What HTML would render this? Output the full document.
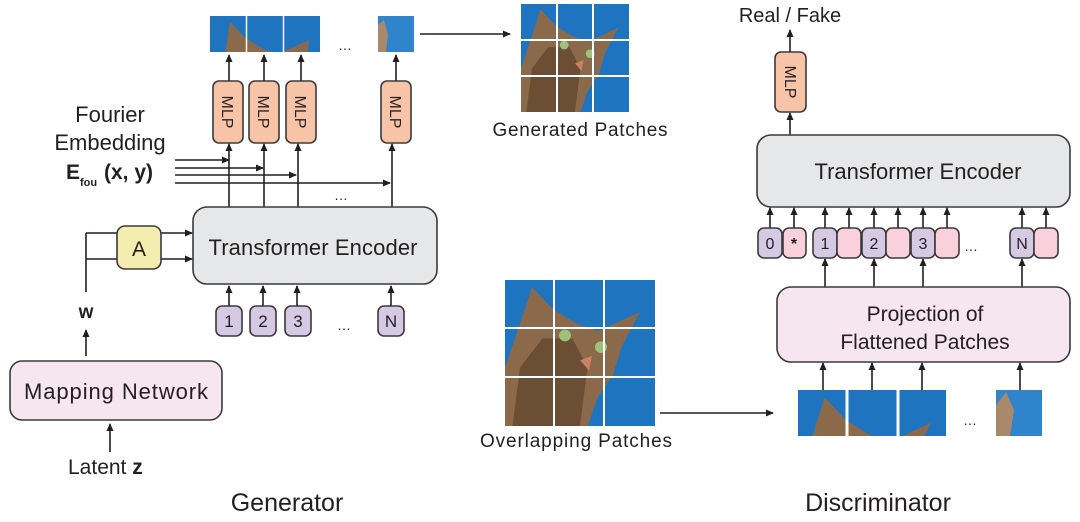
<!DOCTYPE html>
<html><head><meta charset="utf-8"><style>
html,body{margin:0;padding:0;background:#fff;}
svg{display:block;}
text{font-family:"Liberation Sans",sans-serif;fill:#231f20;}
</style></head><body>
<svg width="1080" height="522" viewBox="0 0 1080 522" xmlns="http://www.w3.org/2000/svg">
<defs>
<marker id="ah" markerWidth="8" markerHeight="8" refX="7" refY="4" orient="auto" markerUnits="userSpaceOnUse">
<path d="M0,0.5 L8,4 L0,7.5 Z" fill="#231f20"/></marker>
<symbol id="cat" viewBox="0 0 100 100" preserveAspectRatio="none">
<rect width="100" height="100" fill="#1f74c0"/>
<path d="M0,100 L0,60 L10,30 L18,5 L32,20 L48,30 L62,35 L90,22 L78,45 L72,65 L62,80 L55,100 Z" fill="#8a6a4a"/>
<path d="M5,100 L10,60 L25,40 L45,40 L55,60 L50,100 Z" fill="#6b4e33"/>
<circle cx="40" cy="38" r="4" fill="#9fc27a"/><circle cx="64" cy="46" r="4" fill="#9fc27a"/>
<path d="M50,55 L58,52 L56,62 Z" fill="#c98262"/>
</symbol>
<symbol id="catTop" viewBox="0 0 100 100" preserveAspectRatio="none">
<rect width="100" height="100" fill="#1f74c0"/>
<path d="M0,100 L10,60 L18,5 L32,20 L48,30 L62,35 L90,22 L85,60 L75,100 Z" fill="#8a6a4a"/>
</symbol>
</defs>
<svg x="210" y="16" width="110" height="36" viewBox="0 0 100 33" preserveAspectRatio="none"><use href="#catTop" x="0" y="0" width="100" height="100"/></svg>
<line x1="246.5" y1="16" x2="246.5" y2="52" stroke="#fff" stroke-width="1.5"/>
<line x1="283.5" y1="16" x2="283.5" y2="52" stroke="#fff" stroke-width="1.5"/>
<rect x="378" y="16" width="36" height="36" fill="#2f84cc"/>
<path d="M378,52 L378,25 L384,20 L388,35 L386,52 Z" fill="#a88a6a"/>
<text x="345" y="50" font-size="14" text-anchor="middle">…</text>

<g stroke="#231f20" stroke-width="1.6" fill="none">
<line x1="420" y1="34" x2="510" y2="34" marker-end="url(#ah)"/>
<line x1="229" y1="81" x2="229" y2="55" marker-end="url(#ah)"/>
<line x1="264" y1="81" x2="264" y2="55" marker-end="url(#ah)"/>
<line x1="301" y1="81" x2="301" y2="55" marker-end="url(#ah)"/>
<line x1="396" y1="81" x2="396" y2="55" marker-end="url(#ah)"/>
<line x1="229" y1="207" x2="229" y2="144" marker-end="url(#ah)"/>
<line x1="264" y1="207" x2="264" y2="144" marker-end="url(#ah)"/>
<line x1="298" y1="207" x2="298" y2="144" marker-end="url(#ah)"/>
<line x1="392" y1="207" x2="392" y2="144" marker-end="url(#ah)"/>
<line x1="175" y1="160" x2="229" y2="160" marker-end="url(#ah)"/>
<line x1="175" y1="168" x2="263" y2="168" marker-end="url(#ah)"/>
<line x1="175" y1="175" x2="296" y2="175" marker-end="url(#ah)"/>
<line x1="175" y1="183" x2="390" y2="183" marker-end="url(#ah)"/>
<line x1="86" y1="292" x2="86" y2="233"/>
<line x1="86" y1="233" x2="117" y2="233"/>
<line x1="161" y1="233" x2="192" y2="233" marker-end="url(#ah)"/>
<line x1="86" y1="259" x2="192" y2="259" marker-end="url(#ah)"/>
<line x1="86" y1="356" x2="86" y2="330" marker-end="url(#ah)"/>
<line x1="110" y1="452" x2="110" y2="424" marker-end="url(#ah)"/>
<line x1="229" y1="306" x2="229" y2="286" marker-end="url(#ah)"/>
<line x1="263" y1="306" x2="263" y2="286" marker-end="url(#ah)"/>
<line x1="297" y1="306" x2="297" y2="286" marker-end="url(#ah)"/>
<line x1="391" y1="306" x2="391" y2="286" marker-end="url(#ah)"/>
</g>
<g stroke="#3a3a3a" stroke-width="1.6" fill="#f8c4a8">
<rect x="213" y="81" width="30" height="62" rx="6"/>
<rect x="249" y="81" width="30" height="62" rx="6"/>
<rect x="286" y="81" width="30" height="62" rx="6"/>
<rect x="381" y="81" width="30" height="62" rx="6"/>
<rect x="775" y="52" width="31" height="60" rx="6"/>
</g>
<g font-size="16">
<text transform="translate(222,112) rotate(90)" text-anchor="middle">MLP</text>
<text transform="translate(258,112) rotate(90)" text-anchor="middle">MLP</text>
<text transform="translate(295,112) rotate(90)" text-anchor="middle">MLP</text>
<text transform="translate(390,112) rotate(90)" text-anchor="middle">MLP</text>
<text transform="translate(785,82) rotate(90)" text-anchor="middle">MLP</text>
</g>
<text x="110" y="122" font-size="22" text-anchor="middle">Fourier</text>
<text x="110" y="150" font-size="22" text-anchor="middle">Embedding</text>
<text x="66" y="179" font-size="21" font-weight="bold">E</text>
<text x="80" y="186" font-size="11" font-weight="bold">fou</text>
<text x="104" y="179" font-size="21" font-weight="bold">(x, y)</text>
<text x="341" y="200" font-size="14" text-anchor="middle">…</text>

<rect x="193" y="207" width="244" height="77" rx="14" fill="#e6e7e8" stroke="#3a3a3a" stroke-width="1.6"/>
<text x="313" y="255" font-size="22" text-anchor="middle" textLength="209">Transformer Encoder</text>
<rect x="117" y="226" width="44" height="43" rx="8" fill="#f3edb0" stroke="#3a3a3a" stroke-width="1.6"/>
<text x="139" y="256" font-size="21" text-anchor="middle">A</text>
<g stroke="#3a3a3a" stroke-width="1.6" fill="#d5c9e3">
<rect x="216" y="306" width="26" height="30" rx="6"/>
<rect x="250" y="306" width="26" height="30" rx="6"/>
<rect x="285" y="306" width="26" height="30" rx="6"/>
<rect x="378" y="306" width="26" height="30" rx="6"/>
</g>
<g font-size="17" text-anchor="middle">
<text x="229" y="327">1</text><text x="263" y="327">2</text><text x="298" y="327">3</text><text x="391" y="327">N</text>
</g>
<text x="344" y="330" font-size="14" text-anchor="middle">…</text>
<text x="86" y="318" font-size="19" font-weight="bold" text-anchor="middle">w</text>
<rect x="10" y="361" width="212" height="59" rx="12" fill="#f6e6f0" stroke="#3a3a3a" stroke-width="1.6"/>
<text x="116" y="399" font-size="22" text-anchor="middle" textLength="184">Mapping  Network</text>
<text x="68" y="474" font-size="21">Latent <tspan font-weight="bold">z</tspan></text>
<text x="287" y="511" font-size="25" text-anchor="middle">Generator</text>

<use href="#cat" x="521" y="4" width="108" height="108"/>
<g stroke="#fff" stroke-width="2">
<line x1="557" y1="4" x2="557" y2="112"/><line x1="593" y1="4" x2="593" y2="112"/>
<line x1="521" y1="40" x2="629" y2="40"/><line x1="521" y1="76" x2="629" y2="76"/>
</g>
<text x="580" y="136" font-size="19" text-anchor="middle" textLength="175">Generated Patches</text>

<use href="#cat" x="505" y="280" width="150" height="146"/>
<g stroke="#fff" stroke-width="2">
<line x1="554" y1="280" x2="554" y2="426"/><line x1="604" y1="280" x2="604" y2="426"/>
<line x1="505" y1="328" x2="655" y2="328"/><line x1="505" y1="377" x2="655" y2="377"/>
</g>
<text x="576" y="447" font-size="19" text-anchor="middle" textLength="192">Overlapping Patches</text>
<line x1="660" y1="413" x2="773" y2="413" stroke="#231f20" stroke-width="1.6" marker-end="url(#ah)"/>

<text x="790" y="22" font-size="20" text-anchor="middle">Real / Fake</text>
<g stroke="#231f20" stroke-width="1.6" fill="none">
<line x1="790" y1="52" x2="790" y2="30" marker-end="url(#ah)"/>
<line x1="790" y1="135" x2="790" y2="113" marker-end="url(#ah)"/>
<line x1="770" y1="228" x2="770" y2="208" marker-end="url(#ah)"/>
<line x1="794" y1="228" x2="794" y2="208" marker-end="url(#ah)"/>
<line x1="825" y1="228" x2="825" y2="208" marker-end="url(#ah)"/>
<line x1="849" y1="228" x2="849" y2="208" marker-end="url(#ah)"/>
<line x1="874" y1="228" x2="874" y2="208" marker-end="url(#ah)"/>
<line x1="898" y1="228" x2="898" y2="208" marker-end="url(#ah)"/>
<line x1="923" y1="228" x2="923" y2="208" marker-end="url(#ah)"/>
<line x1="947" y1="228" x2="947" y2="208" marker-end="url(#ah)"/>
<line x1="1022" y1="228" x2="1022" y2="208" marker-end="url(#ah)"/>
<line x1="1046" y1="228" x2="1046" y2="208" marker-end="url(#ah)"/>
<line x1="825" y1="287" x2="825" y2="259" marker-end="url(#ah)"/>
<line x1="874" y1="287" x2="874" y2="259" marker-end="url(#ah)"/>
<line x1="923" y1="287" x2="923" y2="259" marker-end="url(#ah)"/>
<line x1="1022" y1="287" x2="1022" y2="259" marker-end="url(#ah)"/>
<line x1="823" y1="400" x2="823" y2="363" marker-end="url(#ah)"/>
<line x1="872" y1="400" x2="872" y2="363" marker-end="url(#ah)"/>
<line x1="922" y1="400" x2="922" y2="363" marker-end="url(#ah)"/>
<line x1="1020" y1="400" x2="1020" y2="363" marker-end="url(#ah)"/>
</g>
<rect x="757" y="135" width="313" height="72" rx="14" fill="#e6e7e8" stroke="#3a3a3a" stroke-width="1.6"/>
<text x="918" y="179" font-size="22" text-anchor="middle" textLength="207">Transformer Encoder</text>
<g stroke="#3a3a3a" stroke-width="1.6">
<rect x="758" y="228" width="24" height="30" rx="6" fill="#d5c9e3"/>
<rect x="783" y="228" width="23" height="30" rx="6" fill="#f9d0dc"/>
<rect x="813" y="228" width="24" height="30" rx="6" fill="#d5c9e3"/>
<rect x="837" y="228" width="24" height="30" rx="6" fill="#f9d0dc"/>
<rect x="862" y="228" width="24" height="30" rx="6" fill="#d5c9e3"/>
<rect x="886" y="228" width="24" height="30" rx="6" fill="#f9d0dc"/>
<rect x="911" y="228" width="24" height="30" rx="6" fill="#d5c9e3"/>
<rect x="935" y="228" width="24" height="30" rx="6" fill="#f9d0dc"/>
<rect x="1010" y="228" width="24" height="30" rx="6" fill="#d5c9e3"/>
<rect x="1034" y="228" width="24" height="30" rx="6" fill="#f9d0dc"/>
</g>
<g font-size="16" text-anchor="middle">
<text x="770" y="249">0</text><text x="794" y="249" font-weight="bold">*</text>
<text x="825" y="249">1</text><text x="874" y="249">2</text><text x="923" y="249">3</text><text x="1022" y="249">N</text>
</g>
<text x="971" y="251" font-size="14" text-anchor="middle">…</text>
<rect x="777" y="287" width="293" height="75" rx="14" fill="#f6e6f0" stroke="#3a3a3a" stroke-width="1.6"/>
<text x="925" y="321" font-size="21" text-anchor="middle">Projection of</text>
<text x="925" y="349" font-size="21" text-anchor="middle">Flattened Patches</text>
<svg x="798" y="390" width="148" height="46" viewBox="0 0 100 31" preserveAspectRatio="none"><use href="#cat" x="0" y="0" width="100" height="100"/></svg>
<line x1="847" y1="390" x2="847" y2="436" stroke="#fff" stroke-width="3"/>
<line x1="898" y1="390" x2="898" y2="436" stroke="#fff" stroke-width="3"/>
<rect x="996" y="390" width="46" height="46" fill="#2f84cc"/>
<path d="M996,436 L996,405 L1006,392 L1014,410 L1010,436 Z" fill="#a88a6a"/>
<text x="970" y="425" font-size="14" text-anchor="middle">…</text>
<text x="878" y="511" font-size="25" text-anchor="middle">Discriminator</text>
</svg>
</body></html>
